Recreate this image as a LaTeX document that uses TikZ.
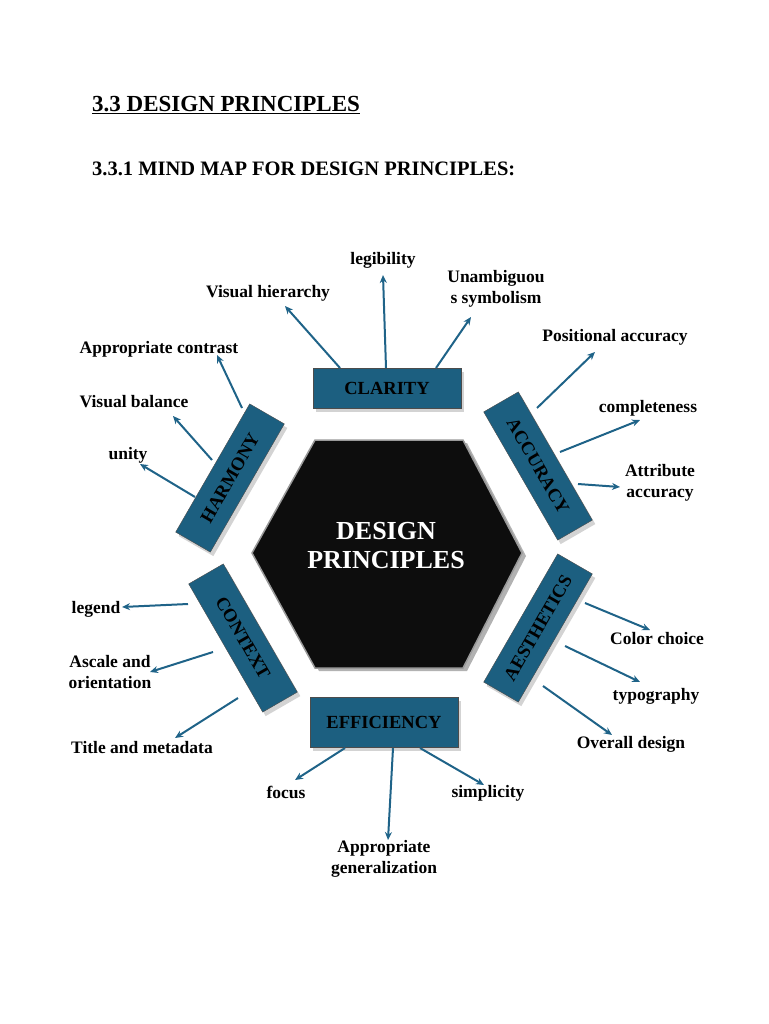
\documentclass[tikz,border=0pt]{standalone}
\usepackage{fontspec}
\setmainfont{Liberation Serif}
\usetikzlibrary{arrows.meta,shadows}
\definecolor{teal1}{HTML}{1C5F80}
\definecolor{arr}{HTML}{1F6388}
\tikzset{
 cat/.style={draw=black!70, fill=teal1, minimum width=148pt, minimum height=40pt, font=\bfseries\fontsize{18.5}{18.5}\selectfont, text=black, drop shadow={opacity=0.35,shadow xshift=3pt,shadow yshift=-4pt}},
 lab/.style={font=\bfseries\fontsize{17.5}{21}\selectfont, align=center, inner sep=1pt},
 ar/.style={draw=arr, line width=2pt, -{Stealth[length=8pt,width=7pt]}}
}
\begin{document}
\begin{tikzpicture}[x=1pt,y=-1pt]
\useasboundingbox (0,0) rectangle (768,1024);
\node[anchor=west,inner sep=0pt,font=\bfseries\fontsize{23}{23}\selectfont] (h1) at (92,105) {\underline{3.3 DESIGN PRINCIPLES}};
\node[anchor=west,inner sep=0pt,font=\bfseries\fontsize{20.5}{20.5}\selectfont] (h2) at (92,169) {3.3.1 MIND MAP FOR DESIGN PRINCIPLES:};
% hexagon
\fill[black!30] (256,556) -- (319,443) -- (467,443) -- (526,556) -- (467,671) -- (319,671) -- cycle;
\draw[fill=black!95, draw=black!40, line width=1.5pt] (252,553) -- (315,440) -- (463,440) -- (522,553) -- (463,668) -- (315,668) -- cycle;
\node[text=white,font=\bfseries\fontsize{26}{29}\selectfont,align=center] (center) at (386,546) {DESIGN\\PRINCIPLES};
% category boxes
\node[cat] (clarity) at (387,388) {CLARITY};
\node[cat, rotate=-60] (accuracy) at (538,466) {ACCURACY};
\node[cat, rotate=60] (harmony) at (230,478) {HARMONY};
\node[cat, rotate=-60] (context) at (243,638) {CONTEXT};
\node[cat, rotate=60] (aesth) at (538,628) {AESTHETICS};
\node[cat, minimum height=50pt] (eff) at (384,722) {EFFICIENCY};
% labels
\node[lab] (vh) at (268,293) {Visual hierarchy};
\node[lab] (leg) at (383,260) {legibility};
\node[lab] (unam) at (496,289) {Unambiguou\\s symbolism};
\node[lab] (pos) at (615,337) {Positional accuracy};
\node[lab] (comp) at (648,408) {completeness};
\node[lab] (attr) at (660,483) {Attribute\\accuracy};
\node[lab] (contr) at (159,349) {Appropriate contrast};
\node[lab] (bal) at (134,402) {Visual balance};
\node[lab] (unity) at (128,455) {unity};
\node[lab] (legend) at (96,609) {legend};
\node[lab] (asc) at (110,672) {Ascale and\\orientation};
\node[lab] (title) at (142,748) {Title and metadata};
\node[lab] (color) at (657,639) {Color choice};
\node[lab] (typo) at (656,696) {typography};
\node[lab] (over) at (631,744) {Overall design};
\node[lab] (focus) at (286,792) {focus};
\node[lab] (gen) at (384,859) {Appropriate\\generalization};
\node[lab] (simp) at (488,793) {simplicity};
% arrow ends
\coordinate (c1) at (340,368); \coordinate (c2) at (386,368); \coordinate (c3) at (436,368);
\coordinate (a1) at (537,408); \coordinate (a2) at (560,452); \coordinate (a3) at (578,484);
\coordinate (m1) at (242,408); \coordinate (m2) at (212,460); \coordinate (m3) at (195,497);
\coordinate (x1) at (188,604); \coordinate (x2) at (213,652); \coordinate (x3) at (238,698);
\coordinate (s1) at (585,603); \coordinate (s2) at (565,646); \coordinate (s3) at (543,686);
\coordinate (e1) at (345,748); \coordinate (e2) at (393,748); \coordinate (e3) at (420,748);
\draw[ar] (c1) -- (285,306); \draw[ar] (c2) -- (383,275); \draw[ar] (c3) -- (471,317);
\draw[ar] (a1) -- (595,352); \draw[ar] (a2) -- (640,420); \draw[ar] (a3) -- (620,487);
\draw[ar] (m1) -- (217,355); \draw[ar] (m2) -- (173,416); \draw[ar] (m3) -- (140,464);
\draw[ar] (x1) -- (122,607); \draw[ar] (x2) -- (150,672); \draw[ar] (x3) -- (175,738);
\draw[ar] (s1) -- (650,630); \draw[ar] (s2) -- (640,682); \draw[ar] (s3) -- (612,735);
\draw[ar] (e1) -- (295,780); \draw[ar] (e2) -- (388,840); \draw[ar] (e3) -- (484,785);
\end{tikzpicture}
\end{document}
